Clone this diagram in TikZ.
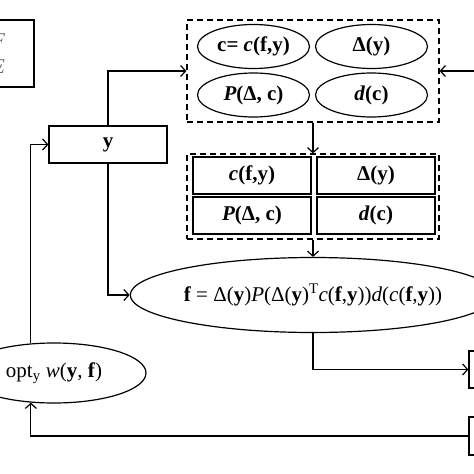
\documentclass[tikz,border=0pt]{standalone}
\usepackage{fontspec}
\setmainfont{Liberation Serif}
\usepackage{tikz}
\usetikzlibrary{arrows.meta,shapes.geometric}

\begin{document}
\begin{tikzpicture}[
    x=1pt, y=-1pt,
    >={Straight Barb[length=5pt,width=11pt]},
    line width=1.2pt,
    font=\fontsize{21}{24}\selectfont,
    box/.style={draw, rectangle, inner sep=0pt},
    oval/.style={draw, ellipse, inner sep=0pt},
    group/.style={draw, rectangle, dashed, dash pattern=on 6pt off 4pt, inner sep=0pt}
]
    \useasboundingbox (0,0) rectangle (474,474);

    % Legend box (cut at the left edge)
    \node[box, minimum width=94pt, minimum height=67pt] (legend) at (-13, 53.5) {};
    \node[anchor=east, text=black!60] (legF) at (9, 41) {\textit{F}};
    \node[anchor=east, text=black!60] (legE) at (9, 67) {\textit{E}};

    % First group: ellipses
    \node[group, minimum width=252pt, minimum height=102pt] (grpA) at (313, 71) {};
    \node[oval, minimum width=112pt, minimum height=44pt] (cA) at (253.5, 46.5) {\textbf{c= \textit{c}(f,y)}};
    \node[oval, minimum width=112pt, minimum height=44pt] (dA) at (371.5, 46.5) {\textbf{Δ(y)}};
    \node[oval, minimum width=112pt, minimum height=44pt] (pA) at (253.5, 95) {\textbf{\textit{P}(Δ, c)}};
    \node[oval, minimum width=112pt, minimum height=44pt] (eA) at (371.5, 95) {\textbf{\textit{d}(c)}};

    % Second group: boxes
    \node[group, minimum width=252pt, minimum height=85pt] (grpB) at (313, 196.5) {};
    \node[box, minimum width=118pt, minimum height=37pt] (cB) at (252, 175.5) {\textbf{\textit{c}(f,y)}};
    \node[box, minimum width=118pt, minimum height=37pt] (dB) at (376, 175.5) {\textbf{Δ(y)}};
    \node[box, minimum width=118pt, minimum height=37pt] (pB) at (252, 215.5) {\textbf{\textit{P}(Δ, c)}};
    \node[box, minimum width=118pt, minimum height=37pt] (eB) at (376, 215.5) {\textbf{\textit{d}(c)}};

    % Design variable
    \node[box, minimum width=118pt, minimum height=37pt] (ybox) at (108, 144.5) {\textbf{y}};

    % Response
    \node[oval, minimum width=360pt, minimum height=75pt] (fell) at (313, 295)
        {\textbf{f} = Δ(\textbf{y})\textit{P}(Δ(\textbf{y})\textsuperscript{T}\textit{c}(\textbf{f},\textbf{y}))\textit{d}(\textit{c}(\textbf{f},\textbf{y}))};

    % Optimiser
    \node[oval, minimum width=184pt, minimum height=60pt] (optell) at (54, 373)
        {opt\textsubscript{y} \textit{w}(\textbf{y}, \textbf{f})};

    % Boxes at the right edge
    \node[box, minimum width=62pt, minimum height=37pt] (outA) at (500, 369.5) {};
    \node[box, minimum width=62pt, minimum height=38pt] (outB) at (500, 436) {};
    \coordinate (rin) at (480, 71);

    % Connections
    \draw[->] (ybox.north) |- (grpA.west);
    \draw[->] (rin) -- (grpA.east);
    \draw[->] (grpA.south) -- (grpB.north);
    \draw[->] (grpB.south) -- (fell.north);
    \draw[->] (ybox.south) |- (fell.west);
    \draw[->] (fell.south) |- (outA.west);
    \draw[->] (outB.west) -| (optell.232);
    \draw[->] (optell.128) |- (ybox.west);

\end{tikzpicture}
\end{document}
